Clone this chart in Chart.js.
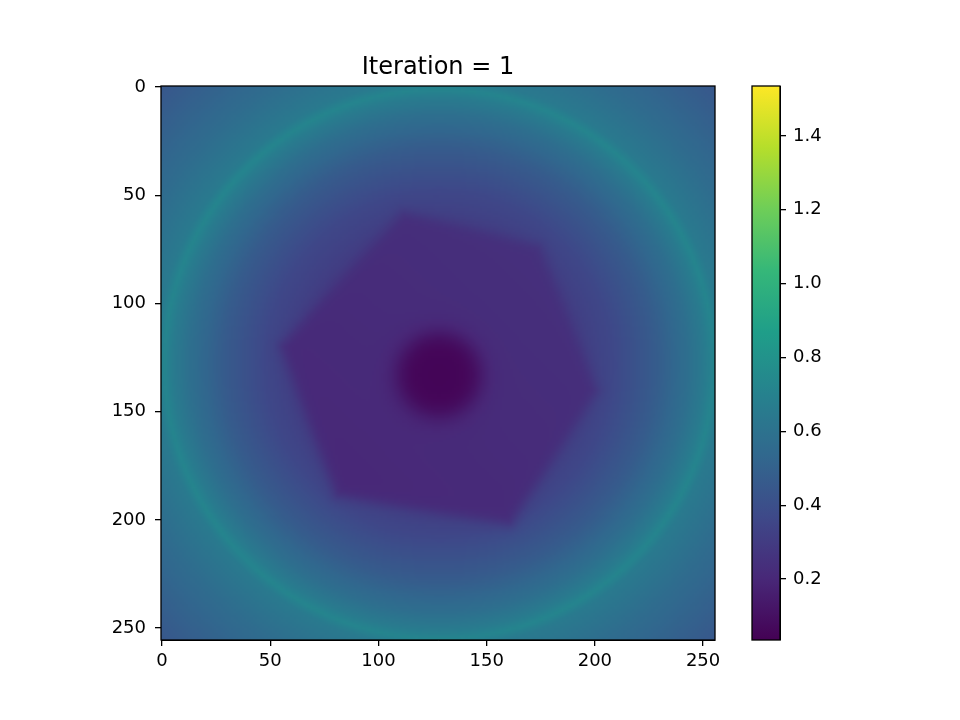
<!DOCTYPE html><html><head><script src="https://cdn.jsdelivr.net/npm/chart.js@4/dist/chart.umd.min.js"></script>
<style>body{margin:0;background:#fff}canvas{position:absolute;left:0;top:0}</style></head><body>
<canvas id="c1" width="960" height="720"></canvas><canvas id="c2" width="960" height="720"></canvas>
<script>
// values
const titleText = "Iteration = 1";
const axisTicks = [0,50,100,150,200,250];
const cbTicks = [0.2,0.4,0.6,0.8,1.0,1.2,1.4];
const cbRange = [0.035,1.535];
const hexX = [112,173,199,160,82,57];
const hexY = [60,75,140,200,187,120];
const plateauValue = 0.22;
const coreCenter = [128,133], coreRadius = 19, coreValue = 0.05;
const ringCenter = [128,128];
const profR = [0,60,80,100,115,123,127,131,150,180];
const profV = [0.3,0.3,0.36,0.47,0.58,0.66,0.72,0.65,0.56,0.45];
const viridis = ['#440154','#482878','#3e4989','#31688e','#26828e','#1f9e89','#35b779','#6ece58','#b5de2b','#fde725'];
Chart.defaults.font.family='DejaVu Sans';Chart.defaults.font.size=18;Chart.defaults.color='#000';
function hex2(c){return [1,3,5].map(k=>parseInt(c.substr(k,2),16));}
const vc=viridis.map(hex2);
function cmap(v){let t=(v-cbRange[0])/(cbRange[1]-cbRange[0]);t=Math.max(0,Math.min(1,t))*(vc.length-1);let i=Math.min(Math.floor(t),vc.length-2),f=t-i;return vc[i].map((a,k)=>a+(vc[i+1][k]-a)*f);}
function interp(xs,ys,x){if(x<=xs[0])return ys[0];for(let i=1;i<xs.length;i++)if(x<=xs[i]){let f=(x-xs[i-1])/(xs[i]-xs[i-1]);return ys[i-1]+f*(ys[i]-ys[i-1]);}return ys[ys.length-1];}
function sdPoly(px,py){let d=1e9,inside=false;const n=hexX.length;for(let i=0,j=n-1;i<n;j=i++){const ax=hexX[j],ay=hexY[j],bx=hexX[i],by=hexY[i];const ex=bx-ax,ey=by-ay;let t=((px-ax)*ex+(py-ay)*ey)/(ex*ex+ey*ey);t=Math.max(0,Math.min(1,t));const dx=px-ax-t*ex,dy=py-ay-t*ey;d=Math.min(d,Math.hypot(dx,dy));if(((ay>py)!=(by>py))&&(px<(bx-ax)*(py-ay)/(by-ay)+ax))inside=!inside;}return inside?-d:d;}
function field(x,y){const r=Math.hypot(x-ringCenter[0],y-ringCenter[1]);let out=interp(profR,profV,r);const sd=sdPoly(x,y)-2;const s=1/(1+Math.exp(-sd/1.8));let v=plateauValue+(x-y)*0.0002;v=v*(1-s)+out*s;const rc=Math.hypot(x-coreCenter[0],y-coreCenter[1]);const c=1/(1+Math.exp((rc-coreRadius)/3));return v*(1-c)+coreValue*c;}
const img=document.createElement('canvas');img.width=256;img.height=256;const ic=img.getContext('2d');const id=ic.createImageData(256,256);
for(let y=0;y<256;y++)for(let x=0;x<256;x++){const c=cmap(field(x,y));const o=(y*256+x)*4;id.data[o]=c[0];id.data[o+1]=c[1];id.data[o+2]=c[2];id.data[o+3]=255;}
ic.putImageData(id,0,0);
const heat={id:'heat',beforeDatasetsDraw(ch){const {ctx,scales:{x,y}}=ch;const l=x.getPixelForValue(-0.5),r=x.getPixelForValue(255.5),t=y.getPixelForValue(-0.5),b=y.getPixelForValue(255.5);ctx.save();ctx.imageSmoothingEnabled=true;ctx.drawImage(img,l,t,r-l,b-t);ctx.restore();},
afterDraw(ch){const ctx=ch.ctx,a=ch.chartArea;ctx.save();ctx.font='24px DejaVu Sans';ctx.fillStyle='#000';ctx.textAlign='center';ctx.fillText(titleText,(a.left+a.right)/2,74);ctx.strokeStyle='#000';ctx.lineWidth=1.3;ctx.strokeRect(a.left,a.top,a.right-a.left,a.bottom-a.top);ctx.restore();}};
const axc=(rev,fit,pad)=>({type:'linear',min:-0.5,max:255.5,reverse:rev,afterFit:fit,afterBuildTicks:s=>{s.ticks=axisTicks.map(v=>({value:v}));},grid:{drawOnChartArea:false,tickLength:6,color:'#000',lineWidth:1.3},border:{color:'#000'},ticks:{padding:pad,maxRotation:0}});
new Chart(document.getElementById('c1'),{type:'scatter',data:{datasets:[{data:[]}]},plugins:[heat],
options:{responsive:false,animation:false,layout:{padding:{left:101,right:245,top:86,bottom:40}},plugins:{legend:{display:false},tooltip:{enabled:false}},
scales:{x:axc(false,s=>{s.height=40},5),y:axc(true,s=>{s.width=60},9)}}});
const cb={id:'cb',beforeDatasetsDraw(ch){const {ctx,chartArea:a}=ch;const g=ctx.createLinearGradient(0,a.bottom,0,a.top);viridis.forEach((c,i)=>g.addColorStop(i/(viridis.length-1),c));ctx.fillStyle=g;ctx.fillRect(a.left,a.top,a.right-a.left,a.bottom-a.top);},
afterDraw(ch){const {ctx,chartArea:a}=ch;ctx.strokeStyle='#000';ctx.lineWidth=1.3;ctx.strokeRect(a.left,a.top,a.right-a.left,a.bottom-a.top);}};
new Chart(document.getElementById('c2'),{type:'scatter',data:{datasets:[{data:[]}]},plugins:[cb],
options:{responsive:false,animation:false,layout:{padding:{left:752,right:120,top:86,bottom:80}},plugins:{legend:{display:false},tooltip:{enabled:false}},
scales:{x:{display:false},y:{position:'right',min:cbRange[0],max:cbRange[1],afterFit:s=>{s.width=60},afterBuildTicks:s=>{s.ticks=cbTicks.map(v=>({value:v}));},grid:{drawOnChartArea:false,tickLength:6,color:'#000',lineWidth:1.3},border:{color:'#000'},ticks:{padding:7,callback:v=>v.toFixed(1)}}}}});
</script></body></html>
